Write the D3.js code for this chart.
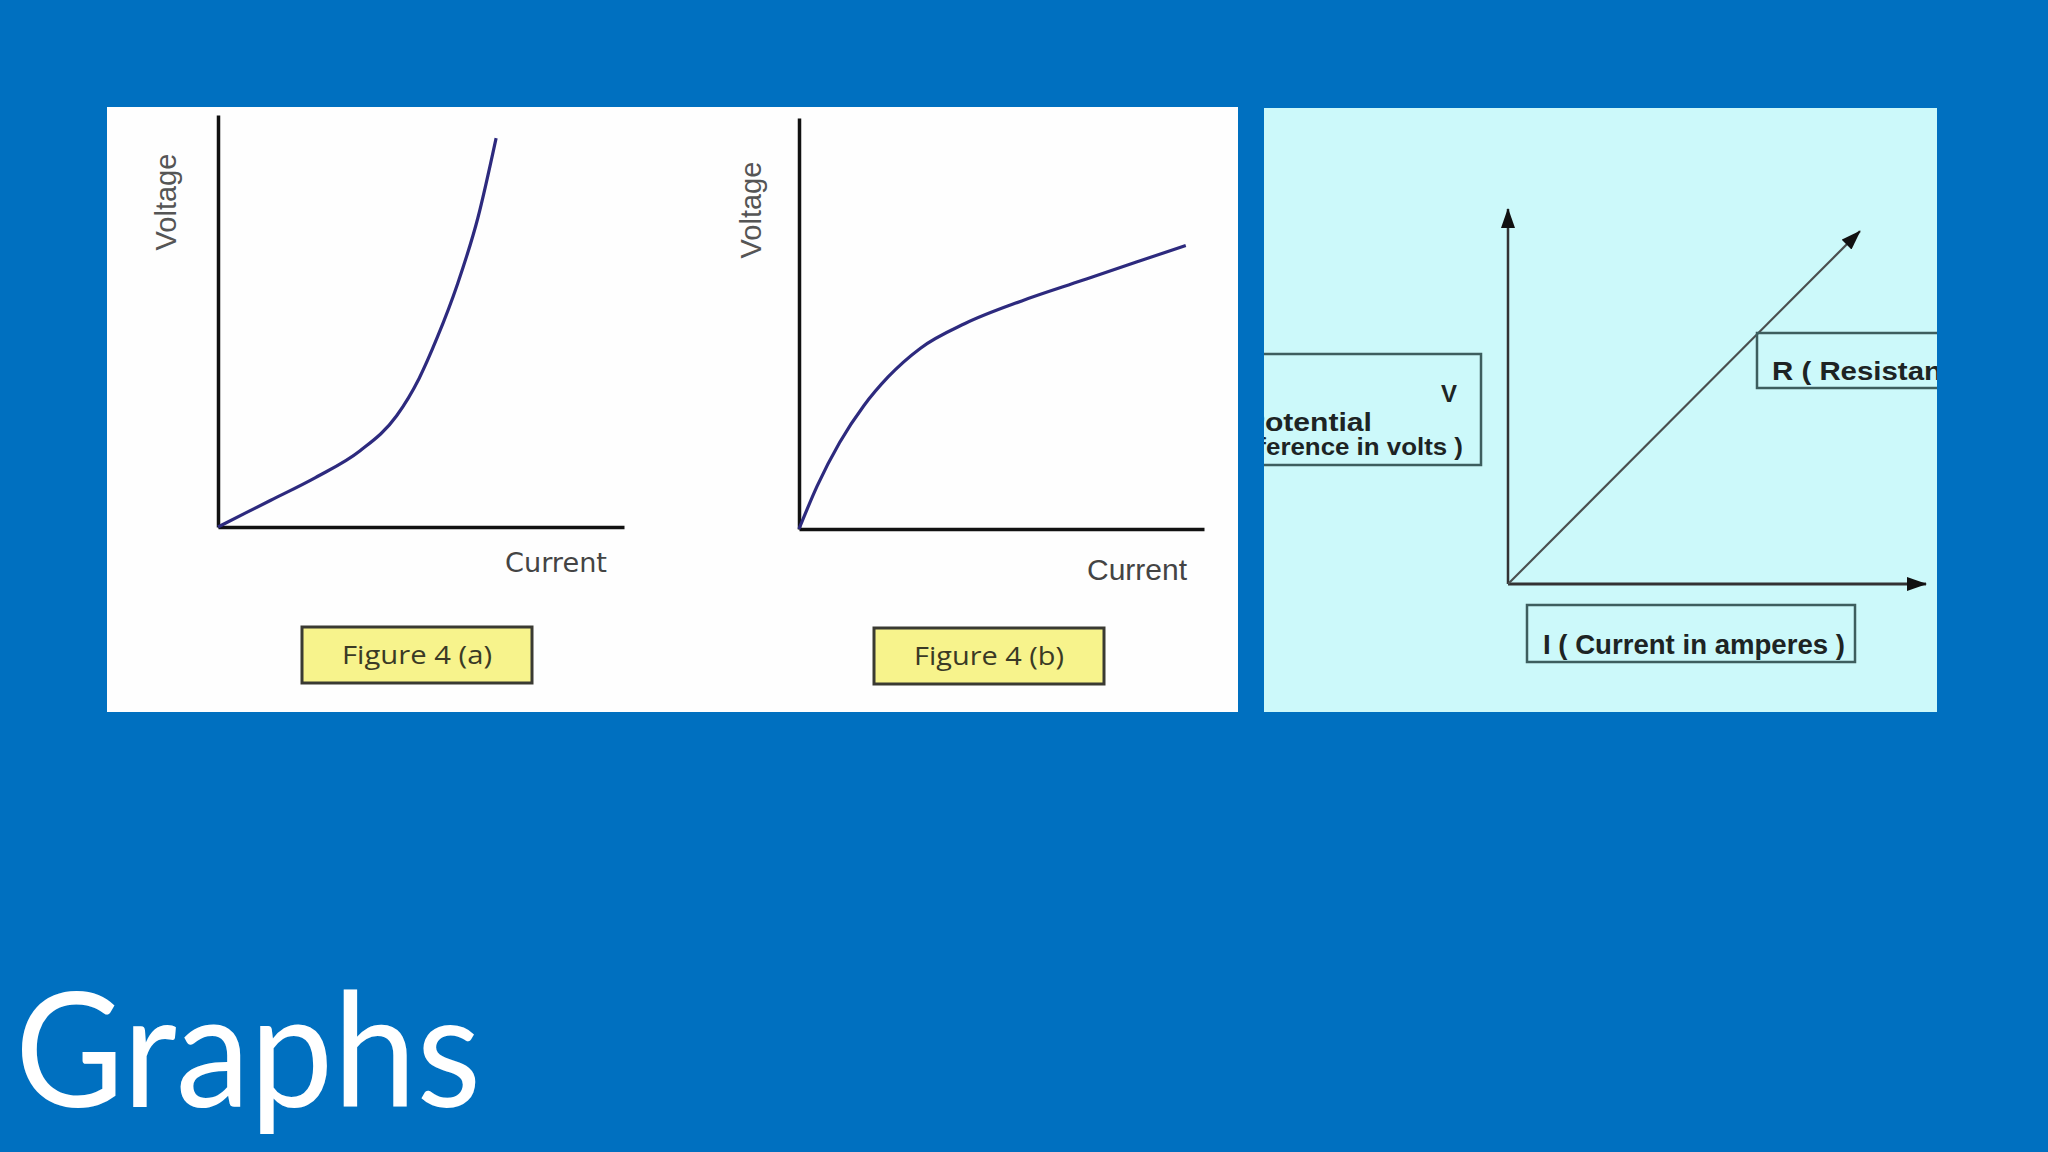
<!DOCTYPE html>
<html>
<head>
<meta charset="utf-8">
<script src="https://cdn.jsdelivr.net/npm/d3@7"></script>
<style>
  html, body { margin: 0; padding: 0; background: #0070C0; }
  svg { display: block; }
</style>
</head>
<body>
<script>
// ---------------- DATA ----------------
// Figure 4 (a): voltage rises slowly then steeply with current
const figACurrent = [0, 1.3, 2.4, 3.5, 4.4, 4.95, 5.4, 5.9, 6.4, 6.85];
const figAVoltage = [0, 0.65, 1.2, 1.85, 2.7, 3.6, 4.6, 5.9, 7.5, 9.44];
// Figure 4 (b): voltage rises quickly then flattens
const figBCurrent = [0, 0.45, 1.0, 1.6, 2.2, 3.0, 4.1, 5.5, 7.0, 8.35, 9.55];
const figBVoltage = [0, 1.05, 2.1, 3.0, 3.7, 4.4, 5.0, 5.55, 6.05, 6.5, 6.9];
// Ohm's law straight line V = I R
const ohmCurrent = [0, 8.42];
const ohmVoltage = [0, 9.41];
// Texts
const axisLabelsAB = { y: "Voltage", x: "Current" };
const figureCaptions = ["Figure 4 (a)", "Figure 4 (b)"];
const ohmLabels = { v: "V", vLine1: "( Potential", vLine2: "difference in volts )",
                    r: "R ( Resistance )", i: "I ( Current in amperes )" };
const slideTitle = "Graphs";

// ---------------- DRAW ----------------
const W = 2048, H = 1152;
const svg = d3.select("body").append("svg").attr("width", W).attr("height", H);
svg.append("rect").attr("width", W).attr("height", H).attr("fill", "#0070C0");

const defs = svg.append("defs");
defs.append("clipPath").attr("id", "cyanClip")
  .append("rect").attr("x", 1264).attr("y", 108).attr("width", 673).attr("height", 604);
defs.append("marker").attr("id", "arrow").attr("viewBox", "0 0 20 14")
  .attr("refX", 19).attr("refY", 7).attr("markerWidth", 20).attr("markerHeight", 14)
  .attr("markerUnits", "userSpaceOnUse").attr("orient", "auto")
  .append("path").attr("d", "M0,0 L20,7 L0,14 Z").attr("fill", "#111");

// White panel with figs a and b
svg.append("rect").attr("x", 107).attr("y", 107).attr("width", 1131).attr("height", 605).attr("fill", "#fefefe");

function drawFig(cfg) {
  const x = d3.scaleLinear().domain([0, 10]).range([cfg.x0, cfg.x1]);
  const y = d3.scaleLinear().domain([0, 10]).range([cfg.y0, cfg.y1]);
  const g = svg.append("g");
  const xAxis = g.append("g").attr("transform", `translate(0,${cfg.y0})`)
    .call(d3.axisBottom(x).ticks(0).tickSizeOuter(0));
  const yAxis = g.append("g").attr("transform", `translate(${cfg.x0},0)`)
    .call(d3.axisLeft(y).ticks(0).tickSizeOuter(0));
  [xAxis, yAxis].forEach(a => a.select(".domain").attr("stroke", "#111").attr("stroke-width", 3.5));
  const pts = cfg.cx.map((c, i) => [c, cfg.cy[i]]);
  g.append("path").datum(pts)
    .attr("d", d3.line().x(d => x(d[0])).y(d => y(d[1])).curve(d3.curveMonotoneX))
    .attr("fill", "none").attr("stroke", "#2d2a7e").attr("stroke-width", 3.2);
  g.append("text").attr("transform", `translate(${cfg.vx},${cfg.vy}) rotate(-90)`)
    .attr("text-anchor", "middle").attr("font-family", "Liberation Sans, Arial, sans-serif")
    .attr("font-size", 29).attr("fill", "#555").text(axisLabelsAB.y);
  g.append("text").attr("x", cfg.cxl).attr("y", cfg.cyl)
    .attr("font-family", cfg.curFont).attr("font-size", cfg.curSize)
    .attr("textLength", cfg.curW).attr("lengthAdjust", "spacingAndGlyphs")
    .attr("fill", "#444").text(axisLabelsAB.x);
  g.append("rect").attr("x", cfg.bx).attr("y", cfg.by).attr("width", 230).attr("height", 56)
    .attr("fill", "#f7f38c").attr("stroke", "#3a3a32").attr("stroke-width", 3);
  g.append("text").attr("x", cfg.bx + 115).attr("y", cfg.by + 37).attr("text-anchor", "middle")
    .attr("font-family", "Open Sans, sans-serif").attr("font-size", 25)
    .attr("textLength", 150).attr("lengthAdjust", "spacingAndGlyphs")
    .attr("fill", "#3a3a25").text(cfg.caption);
}

drawFig({ x0: 218, x1: 624, y0: 527, y1: 115, cx: figACurrent, cy: figAVoltage,
  vx: 176, vy: 202, cxl: 505, cyl: 572, curFont: "DejaVu Sans, sans-serif", curSize: 26, curW: 102,
  bx: 302, by: 627, caption: figureCaptions[0] });
drawFig({ x0: 799, x1: 1204, y0: 529, y1: 118, cx: figBCurrent, cy: figBVoltage,
  vx: 761, vy: 210, cxl: 1087, cyl: 580, curFont: "Liberation Sans, Arial, sans-serif", curSize: 30, curW: 100,
  bx: 874, by: 628, caption: figureCaptions[1] });

// Cyan panel: Ohm's law
svg.append("rect").attr("x", 1264).attr("y", 108).attr("width", 673).attr("height", 604).attr("fill", "#ccf9fa");
const cg = svg.append("g").attr("clip-path", "url(#cyanClip)");
const ox = d3.scaleLinear().domain([0, 10]).range([1508, 1926]);
const oy = d3.scaleLinear().domain([0, 10]).range([584, 209]);

cg.append("line").attr("x1", ox(0)).attr("y1", oy(0)).attr("x2", ox(0)).attr("y2", oy(10))
  .attr("stroke", "#333").attr("stroke-width", 2.5).attr("marker-end", "url(#arrow)");
cg.append("line").attr("x1", ox(0)).attr("y1", oy(0)).attr("x2", ox(10)).attr("y2", oy(0))
  .attr("stroke", "#333").attr("stroke-width", 3).attr("marker-end", "url(#arrow)");
cg.append("line").attr("x1", ox(ohmCurrent[0])).attr("y1", oy(ohmVoltage[0]))
  .attr("x2", ox(ohmCurrent[1])).attr("y2", oy(ohmVoltage[1]))
  .attr("stroke", "#4a4f4f").attr("stroke-width", 2.2).attr("marker-end", "url(#arrow)");

const boxStyle = s => s.attr("fill", "none").attr("stroke", "#3d5e5e").attr("stroke-width", 2.5);
const boldText = s => s.attr("font-family", "Liberation Sans, Arial, sans-serif")
  .attr("font-weight", "bold").attr("fill", "#1d2424");

// Fit a clipped text: the substring starting at 'from' (of length 'len') must span [x0, x1]
function fittedText(str, size, y, visFrom, visLen, x0, x1) {
  const tmp = cg.append("text").attr("font-size", size).call(boldText).text(str);
  const node = tmp.node();
  const full = node.getComputedTextLength();
  const before = visFrom > 0 ? node.getSubStringLength(0, visFrom) : 0;
  const vis = node.getSubStringLength(visFrom, visLen);
  tmp.remove();
  const s = (x1 - x0) / vis;
  const start = x0 - before * s;
  return cg.append("text").attr("x", start).attr("y", y).attr("font-size", size).call(boldText)
    .attr("textLength", full * s).attr("lengthAdjust", "spacingAndGlyphs").text(str);
}

cg.append("rect").attr("x", 1150).attr("y", 354).attr("width", 331).attr("height", 111).call(boxStyle);
cg.append("text").attr("x", 1457).attr("y", 402).attr("text-anchor", "end").attr("font-size", 24)
  .call(boldText).text(ohmLabels.v);
// "( Potential": visible part "otential" spans 1265..1372
fittedText(ohmLabels.vLine1, 25, 431, 3, 8, 1265, 1372);
// "difference in volts )": visible part "erence in volts )" spans 1265..1463
fittedText(ohmLabels.vLine2, 24, 455, 4, 17, 1266, 1463);

cg.append("rect").attr("x", 1757).attr("y", 333).attr("width", 260).attr("height", 55).call(boxStyle);
// "R ( Resistance )": visible part "R ( Resistan" spans 1772..1940
fittedText(ohmLabels.r, 26, 380, 0, 12, 1772, 1942);

cg.append("rect").attr("x", 1527).attr("y", 605).attr("width", 328).attr("height", 57).call(boxStyle);
cg.append("text").attr("x", 1543).attr("y", 654).attr("font-size", 27)
  .attr("textLength", 302).attr("lengthAdjust", "spacingAndGlyphs")
  .call(boldText).text(ohmLabels.i);

// Title
svg.append("text").attr("x", 15).attr("y", 1107)
  .attr("font-family", "Lato, 'Open Sans', sans-serif").attr("font-size", 160)
  .attr("textLength", 466).attr("lengthAdjust", "spacingAndGlyphs")
  .attr("fill", "#ffffff").text(slideTitle);
</script>
</body>
</html>
